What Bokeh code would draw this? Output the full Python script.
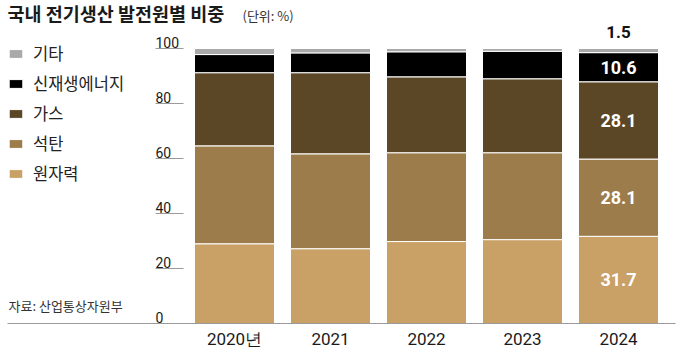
from bokeh.plotting import figure
from bokeh.models import (FixedTicker, Legend, LegendItem, Label, ColumnDataSource,
                          LinearAxis, Range1d)
from bokeh.core.properties import value
from bokeh.embed import file_html
from bokeh.resources import INLINE

# ---- data ----
years = [0, 1, 2, 3, 4]
year_labels = ["2020년", "2021", "2022", "2023", "2024"]
nuclear = [29.0, 27.2, 29.8, 30.5, 31.7]   # 원자력
coal = [35.6, 34.5, 32.3, 31.6, 28.1]      # 석탄
gas = [26.6, 29.5, 27.6, 26.9, 28.1]       # 가스
renew = [6.6, 7.2, 9.1, 10.0, 10.6]        # 신재생에너지
other = [2.2, 1.6, 1.2, 1.0, 1.5]          # 기타
series_names = ["원자력", "석탄", "가스", "신재생에너지", "기타"]
series_keys = ["nuclear", "coal", "gas", "renew", "other"]
colors = ["#c9a066", "#9c7c4b", "#5b4726", "#000000", "#a9a9a9"]
y_ticks = [0, 20, 40, 60, 80, 100]
labeled_year = 4  # 2024 values shown

KR = "Noto Sans CJK KR"
NUM = "Roboto"

# ---- layout constants (pixels) ----
W, H = 681, 351
left_px, right_px, bottom_px, top_px = 7, 675, 323, 0
cx0, step = 234.0, 96.0
px_per_unit = 2.75

x_start = (left_px - cx0) / step
x_end = (right_px - cx0) / step
y_end = (bottom_px - top_px) / px_per_unit

p = figure(width=W, height=H, output_backend="svg", toolbar_location=None,
           x_range=Range1d(x_start, x_end), y_range=Range1d(0, y_end),
           min_border_left=left_px, min_border_right=W - right_px,
           min_border_top=top_px, min_border_bottom=H - bottom_px,
           x_axis_location=None, y_axis_location=None)
p.outline_line_color = None
p.grid.visible = False
p.background_fill_color = "white"
p.border_fill_color = "white"

data = dict(x=years, nuclear=nuclear, coal=coal, gas=gas, renew=renew, other=other)
src = ColumnDataSource(data)
rs = p.vbar_stack(series_keys, x="x", width=80 / step, source=src,
                  color=colors, line_color="white", line_width=1)

# x axis
xaxis = LinearAxis(ticker=FixedTicker(ticks=years),
                   major_label_overrides={i: t for i, t in zip(years, year_labels)})
xaxis.axis_line_color = "#9a9a9a"
xaxis.axis_line_width = 1.2
xaxis.major_tick_line_color = None
xaxis.minor_tick_line_color = None
xaxis.major_tick_out = 0
xaxis.major_tick_in = 0
xaxis.minor_tick_out = 0
xaxis.minor_tick_in = 0
xaxis.major_label_standoff = 5
xaxis.major_label_text_font = NUM
xaxis.major_label_text_font_size = "17px"
xaxis.major_label_text_color = "#1a1a1a"
p.add_layout(xaxis, "below")

# y tick labels and short tick lines
tick_x0 = (155 - cx0) / step
tick_x1 = (183 - cx0) / step
p.text(x=[tick_x0] * len(y_ticks), y=y_ticks, text=[str(t) for t in y_ticks],
       text_font=value(NUM), text_font_size="14px", text_color="#1a1a1a",
       text_align="left", text_baseline="alphabetic", y_offset=-6)
gl = [t for t in y_ticks if t > 0]
p.segment(x0=[tick_x0] * len(gl), x1=[tick_x1] * len(gl), y0=gl, y1=gl,
          line_color="#9a9a9a", line_width=1)

# value labels for 2024
vals = [nuclear[labeled_year], coal[labeled_year], gas[labeled_year], renew[labeled_year]]
mids, acc = [], 0.0
for v in vals:
    mids.append(acc + v / 2)
    acc += v
p.text(x=[labeled_year] * 4, y=mids, text=[f"{v:.1f}" for v in vals],
       text_font=value(NUM), text_font_style="bold", text_font_size="18px",
       text_color="white", text_align="center", text_baseline="middle")
top_total = acc + other[labeled_year]
p.text(x=[labeled_year], y=[top_total], text=[f"{other[labeled_year]:.1f}"],
       text_font=value(NUM), text_font_style="bold", text_font_size="17px",
       text_color="#111111", text_align="center", text_baseline="middle", y_offset=-17)

# legend
items = [LegendItem(label=series_names[i], renderers=[rs[i]]) for i in [4, 3, 2, 1, 0]]
legend = Legend(items=items, location=(0, 138), orientation="vertical",
                glyph_width=17, glyph_height=11, label_standoff=9,
                label_height=20, spacing=6, padding=0, margin=0,
                label_text_font=KR, label_text_font_size="16.5px",
                label_text_color="#222222",
                background_fill_alpha=0, border_line_color=None)
p.add_layout(legend)

# titles / source
p.add_layout(Label(x=0, y=bottom_px - 12, x_units="screen", y_units="screen",
                   text="국내 전기생산 발전원별 비중", text_font=KR,
                   text_font_style="bold", text_font_size="18.5px",
                   text_color="#1a1a1a", text_baseline="middle"))
p.add_layout(Label(x=235, y=bottom_px - 15, x_units="screen", y_units="screen",
                   text="(단위: %)", text_font=KR, text_font_size="13px",
                   text_color="#333333", text_baseline="middle"))
p.add_layout(Label(x=1, y=bottom_px - 305, x_units="screen", y_units="screen",
                   text="자료: 산업통상자원부", text_font=KR, text_font_size="13px",
                   text_color="#333333", text_baseline="middle"))

open("out.html", "w").write(file_html(p, INLINE))
